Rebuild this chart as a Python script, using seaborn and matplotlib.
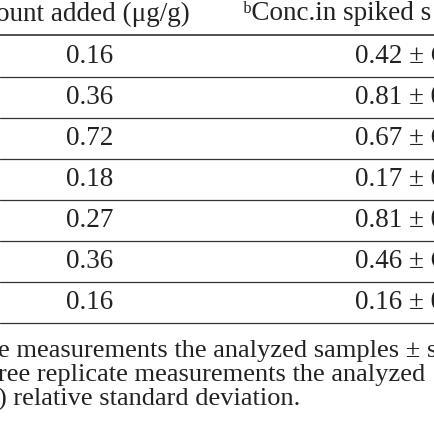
import matplotlib
matplotlib.use("Agg")
import matplotlib.pyplot as plt
import seaborn as sns

# table content (cropped view of a larger table)
header = ["ount added (\u03bcg/g)", "\u1d47Conc.in spiked s"]
amount_added = ["0.16", "0.36", "0.72", "0.18", "0.27", "0.36", "0.16"]
conc_spiked = ["0.42 \u00b1 C", "0.81 \u00b1 0", "0.67 \u00b1 C", "0.17 \u00b1 0",
               "0.81 \u00b1 0", "0.46 \u00b1 C", "0.16 \u00b1 0"]
footnotes = ["e measurements the analyzed samples \u00b1 s",
             "ree replicate measurements the analyzed",
             ") relative standard deviation."]

sns.set_theme(style="white")
plt.rcParams['font.family'] = ['Liberation Serif', 'DejaVu Serif']

W = H = 434
fig = plt.figure(figsize=(4.34, 4.34), dpi=100)
ax = fig.add_axes([0, 0, 1, 1])
ax.set_xlim(0, W)
ax.set_ylim(H, 0)
ax.axis("off")

fs = 19.5
col = "#222222"
ax.text(-4, 14, header[0], fontsize=fs, ha="left", va="center", color=col)
ax.text(243, 14, header[1], fontsize=fs, ha="left", va="center", color=col)

row_h = 41
top = 36
ax.plot([0, W], [top - 1, top - 1], color="#333333", lw=1.2)
for i, (a, c) in enumerate(zip(amount_added, conc_spiked)):
    yc = top + row_h * i + row_h / 2
    ax.text(90, yc, a, fontsize=fs, ha="center", va="center", color=col)
    ax.text(355, yc, c, fontsize=fs, ha="left", va="center", color=col)
    ax.plot([0, W], [top + row_h * (i + 1)] * 2, color="#333333", lw=0.9)

for j, t in enumerate(footnotes):
    ax.text(-2, 351 + 24 * j, t, fontsize=19, ha="left", va="center", color=col)

fig.savefig("out.png", dpi=100, facecolor="white")
